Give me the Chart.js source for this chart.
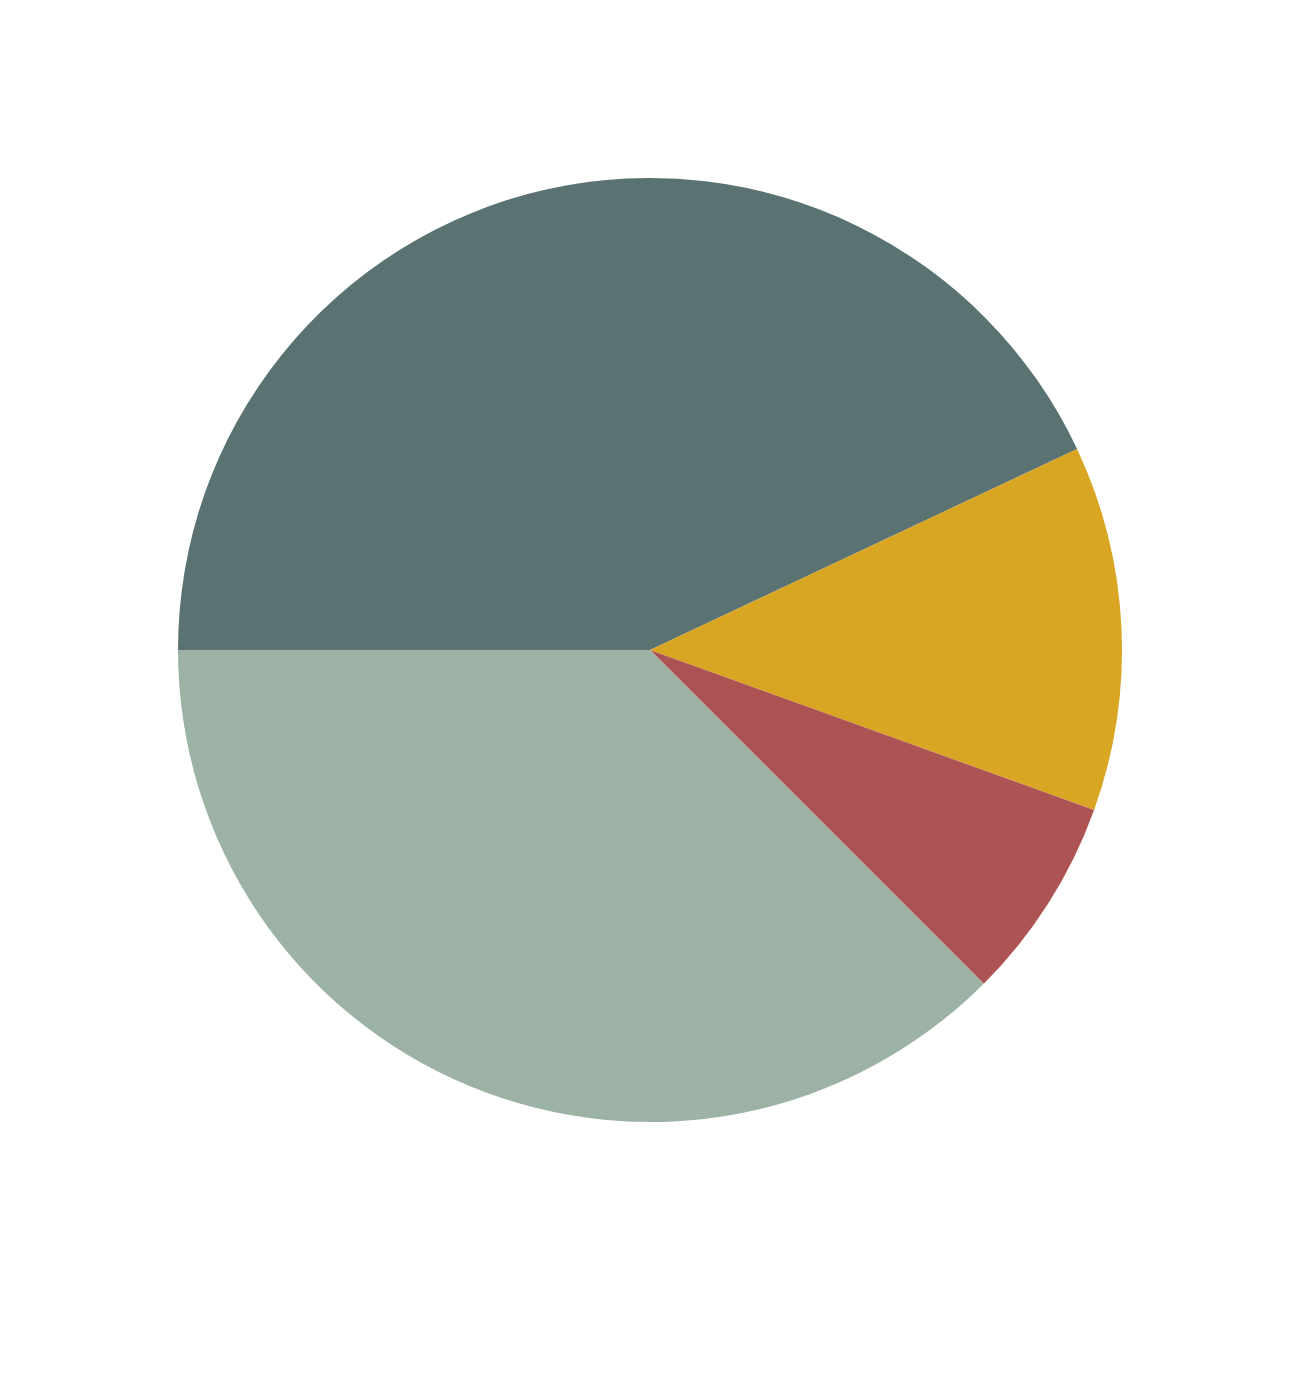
<!DOCTYPE html>
<html>
<head>
<meta charset="utf-8">
<title>Pie chart</title>
<script src="https://cdn.jsdelivr.net/npm/chart.js@4/dist/chart.umd.min.js"></script>
<style>
  html, body { margin: 0; padding: 0; background: #ffffff; }
  #wrap { position: relative; width: 1300px; height: 1300px; }
</style>
</head>
<body>
<div id="wrap"><canvas id="chartPie"></canvas></div>
<script>
// slices clockwise, starting at 9 o'clock
const sliceLabels = ['Slate', 'Gold', 'Red', 'Sage'];
const sliceValues = [43, 12.5, 7, 37.5];
const sliceColors = ['#5a7272', '#d8a623', '#ae5353', '#9cb2a4'];

(function () {
    'use strict';

    function initChart() {
        if (typeof Chart === 'undefined') return;
        const el = document.getElementById('chartPie');
        if (!el) return;

        new Chart(el, {
            type: 'pie',
            data: {
                labels: sliceLabels,
                datasets: [
                    {
                        data: sliceValues,
                        backgroundColor: sliceColors,
                        borderWidth: 0,
                    },
                ],
            },
            options: {
                responsive: true,
                maintainAspectRatio: false,
                animation: false,
                rotation: -90,
                layout: { padding: 178 },
                plugins: {
                    legend: { display: false },
                    tooltip: { enabled: false },
                },
            },
        });
    }

    if (document.readyState === 'loading') {
        document.addEventListener('DOMContentLoaded', initChart);
    } else {
        initChart();
    }
})();
</script>
</body>
</html>
